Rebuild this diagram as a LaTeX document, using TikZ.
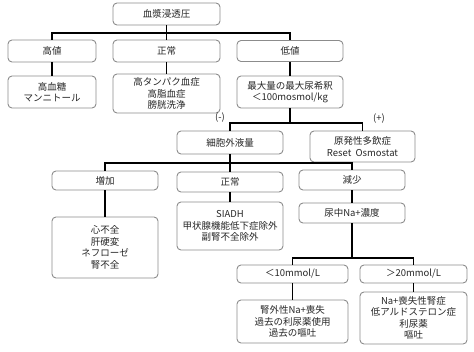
\documentclass[tikz,border=0pt]{standalone}
\usepackage{fontspec}
\setmainfont{Noto Sans CJK JP}
\usepackage{tikz}
\usetikzlibrary{positioning,calc}
\definecolor{boxline}{gray}{0.55}
\definecolor{txt}{gray}{0.15}
\tikzset{
  blk/.style  = {draw=boxline, line width=0.9pt, rounded corners=4pt, align=center,
                 font=\fontsize{9.5}{11.5}\selectfont, text=txt, inner sep=1pt},
  ln/.style   = {line width=1.3pt, black},
  sgn/.style  = {font=\fontsize{9.5}{10}\selectfont, text=txt, inner sep=1pt},
}
\begin{document}
\begin{tikzpicture}[x=1pt,y=-1pt]
\useasboundingbox (0,0) rectangle (474,351);

% top levels
\node[blk, minimum width=107pt, minimum height=22pt] (plas) at (166.5,14) {血漿浸透圧};
\node[blk, minimum width=88pt,  minimum height=22pt] (high) at (52,51) {高値};
\node[blk, minimum width=107pt, minimum height=22pt] (norm) at (166.5,51) {正常};
\node[blk, minimum width=106pt, minimum height=21pt] (low)  at (290,51) {低値};

\node[blk, minimum width=88pt,  minimum height=32pt] (hgly) at (52,92)
     {高血糖\\マンニトール};
\node[blk, minimum width=107pt, minimum height=39pt] (hpro) at (166.5,93.5)
     {高タンパク血症\\高脂血症\\膀胱洗浄};
\node[blk, minimum width=106pt, minimum height=32pt] (mdil) at (290,92)
     {最大量の最大尿希釈\\＜100mosmol/kg};

% extracellular volume
\node[blk, minimum width=106pt, minimum height=23pt] (ecf)  at (230,142.5) {細胞外液量};
\node[blk, minimum width=105pt, minimum height=31pt] (poly) at (362.5,146.5)
     {原発性多飲症\\Reset\ \ Osmostat};
\node[sgn] (neg) at (220,118) {(-)};
\node[sgn] (pos) at (379,119) {(+)};

\node[blk, minimum width=106pt, minimum height=19pt] (incr) at (105,180.5) {増加};
\node[blk, minimum width=106pt, minimum height=20pt] (enor) at (230,182) {正常};
\node[blk, minimum width=106pt, minimum height=20pt] (decr) at (352,180) {減少};

\node[blk, minimum width=106pt, minimum height=61pt] (hf)   at (105,247.5)
     {心不全\\肝硬変\\ネフローゼ\\腎不全};
\node[blk, minimum width=106pt, minimum height=48pt] (siad) at (230,226)
     {SIADH\\甲状腺機能低下症除外\\副腎不全除外};
\node[blk, minimum width=106pt, minimum height=20pt] (una)  at (352,213) {尿中Na+濃度};

% urine sodium
\node[blk, minimum width=111pt, minimum height=18pt] (lt10) at (292.5,274) {＜10mmol/L};
\node[blk, minimum width=107pt, minimum height=18pt] (gt20) at (413.5,274) {＞20mmol/L};
\node[blk, minimum width=111pt, minimum height=43pt] (extr) at (292.5,321.5)
     {腎外性Na+喪失\\過去の利尿薬使用\\過去の嘔吐};
\node[blk, minimum width=107pt, minimum height=52pt] (ren)  at (413.5,318)
     {Na+喪失性腎症\\低アルドステロン症\\利尿薬\\嘔吐};

% bus points
\coordinate (b1) at (166.5,33);
\coordinate (b2) at (290,123);
\coordinate (b3) at (230,163);
\coordinate (b4) at (352,258);

\draw[ln] (plas) -- (norm);
\draw[ln] (high.north) |- (b1) -| (low.north);
\draw[ln] (high) -- (hgly);
\draw[ln] (norm) -- (hpro);
\draw[ln] (low) -- (mdil);
\draw[ln] (mdil) -- (b2);
\draw[ln] (ecf.north) |- (b2) -| (poly.north);
\draw[ln] (ecf) -- (enor);
\draw[ln] (incr.north) |- (b3) -| (decr.north);
\draw[ln] (incr) -- (hf);
\draw[ln] (enor) -- (siad);
\draw[ln] (decr) -- (una);
\draw[ln] (una) -- (b4);
\draw[ln] (lt10.north) |- (b4) -| (gt20.north);
\draw[ln] (lt10) -- (extr);
\draw[ln] (gt20) -- (ren);
\end{tikzpicture}
\end{document}
